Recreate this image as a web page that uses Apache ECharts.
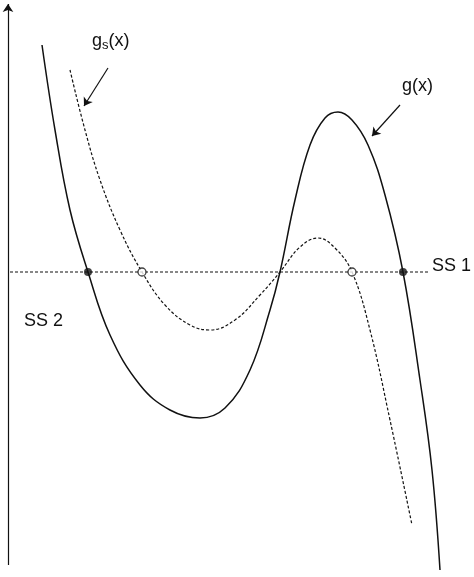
<!DOCTYPE html>
<html><head><meta charset="utf-8">
<script src="https://cdn.jsdelivr.net/npm/echarts@6/dist/echarts.min.js"></script>
<style>html,body{margin:0;padding:0;background:#fff}#c{width:474px;height:577px}</style>
</head><body><div id="c"></div>
<script>
const gCurve=[[42,45],[55,130],[70,210],[88,272],[110,335],[140,385],[170,410],[200,418],[225,408],[250,370],[270,310],[280,272],[295,200],[310,145],[325,118],[338,112],[352,120],[368,145],[385,195],[403,272],[420,380],[432,470],[440,570]];
const gsCurve=[[70,70],[85,130],[100,180],[120,230],[142,272],[165,305],[190,325],[210,330],[235,320],[260,295],[280,272],[300,247],[318,238],[335,248],[352,272],[370,330],[390,420],[412,525]];
const baseline=[[10,272],[430,272]];
const stablePts=[[88,272],[403,272]];
const unstablePts=[[142,272],[352,272]];
const labels=[{t:'g',sub:'s',x:92,y:45},{t:'g(x)',x:402,y:90},{t:'SS 1',x:432,y:270},{t:'SS 2',x:24,y:325}];
const ch=echarts.init(document.getElementById('c'));
const ink='#111';
ch.setOption({
 animation:false,
 grid:{left:0,right:0,top:0,bottom:0},
 xAxis:{type:'value',min:0,max:474,show:false},
 yAxis:{type:'value',min:0,max:577,inverse:true,show:false},
 series:[
  {type:'line',data:gCurve,smooth:0.4,symbol:'none',lineStyle:{color:ink,width:1.5},z:3,
   markLine:{silent:true,symbol:['none','arrow'],symbolSize:8,label:{show:false},lineStyle:{color:ink,width:1.2,type:'solid'},
    data:[[{coord:[8,565]},{coord:[8,4]}],[{coord:[400,105]},{coord:[372,136]}],[{coord:[108,68]},{coord:[84,106]}]]}},
  {type:'line',data:gsCurve,smooth:0.4,symbol:'none',lineStyle:{color:ink,width:1.2,type:[3,2]},z:3},
  {type:'line',data:baseline,symbol:'none',lineStyle:{color:ink,width:1.2,type:[3,2]},z:2},
  {type:'scatter',data:stablePts,symbolSize:8,itemStyle:{color:ink},z:5},
  {type:'scatter',data:unstablePts,symbolSize:8,itemStyle:{color:'#fff',borderColor:ink,borderWidth:1.3},z:5}
 ],
 graphic:labels.map(l=>({type:'text',left:l.x,top:l.y-13,style:{
   text:l.sub?'{a|g}{b|s}{a|(x)}':l.t,fill:ink,font:'18px "Liberation Sans", Arial',
   rich:{a:{fontSize:18,fill:ink,fontFamily:'Liberation Sans'},b:{fontSize:13,fill:ink,fontFamily:'Liberation Sans',verticalAlign:'bottom',padding:[8,0,0,0]}}}}))
});
</script></body></html>
